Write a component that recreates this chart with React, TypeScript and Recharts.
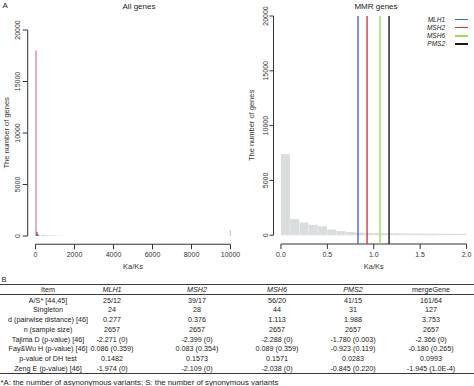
import React from "react";
import { ComposedChart, BarChart, Bar, Area, Cell, XAxis, YAxis, ReferenceLine } from "recharts";

// Panel A, left: Ka/Ks histogram of all genes (bin centres and counts)
const allGenesKaKs = [25, 75, 125, 175, 9990];
const allGenesCounts = [18000, 380, 190, 90, 550];
const allGenesColors = ["#c4586a", "#6b2a38", "#7a3a46", "#a08088", "#b8bcbc"];
// the faint tail of small counts after the first bins
const allTailKaKs = [300, 500, 700, 900, 1100, 1300, 1500];
const allTailCounts = [90, 70, 55, 40, 30, 20, 0];
const allKaKsTicks = [0, 2000, 4000, 6000, 8000, 10000];

// Panel A, right: Ka/Ks histogram, 0.1 wide bins, with the four MMR genes
const mmrBinKaKs = [0.05, 0.15, 0.25, 0.35, 0.45, 0.55, 0.65, 0.75, 0.85, 0.95, 1.05, 1.15, 1.25, 1.35, 1.45, 1.55, 1.65, 1.75, 1.85, 1.95];
const mmrBinCounts = [7400, 1480, 1150, 950, 820, 520, 380, 290, 240, 210, 195, 185, 175, 165, 160, 150, 145, 140, 135, 130];
const mmrKaKsTicks = [0, 0.5, 1, 1.5, 2];
const mmrGenes = ["MLH1", "MSH2", "MSH6", "PMS2"];
const mmrGeneKaKs = [0.83, 0.928, 1.068, 1.165];
const mmrGeneColors = ["#4a64d8", "#ee2c2c", "#96e05a", "#1a1a1a"];

const countTicks = [0, 5000, 10000, 15000, 20000];

// Panel B
const tableHeader = ["Item", "MLH1", "MSH2", "MSH6", "PMS2", "mergeGene"];
const tableItems = [
  "A/S* [44,45]",
  "Singleton",
  "d (pairwise distance) [46]",
  "n (sample size)",
  "Tajima D (p-value) [46]",
  "Fay&Wu H (p-value) [46]",
  "p-value of DH test",
  "Zeng E (p-value) [46]",
];
const mlh1Values = ["25/12", "24", "0.277", "2657", "-2.271 (0)", "0.086 (0.359)", "0.1482", "-1.974 (0)"];
const msh2Values = ["39/17", "28", "0.376", "2657", "-2.399 (0)", "0.083 (0.354)", "0.1573", "-2.109 (0)"];
const msh6Values = ["56/20", "44", "1.113", "2657", "-2.288 (0)", "0.089 (0.359)", "0.1571", "-2.038 (0)"];
const pms2Values = ["41/15", "31", "1.988", "2657", "-1.780 (0.003)", "-0.923 (0.119)", "0.0283", "-0.845 (0.220)"];
const mergeValues = ["161/64", "127", "3.753", "2657", "-2.366 (0)", "-0.180 (0.265)", "0.0993", "-1.945 (1.0E-4)"];
const footnote = "*A: the number of asynonymous variants; S: the number of synonymous variants";

const ink = "#333";
const font = "'Liberation Sans', Arial, sans-serif";
const colCenters = [48, 112, 197, 277, 353, 431];

const allGenesData = [
  ...allGenesKaKs.map((x, i) => ({ x, count: allGenesCounts[i], color: allGenesColors[i] })),
  ...allTailKaKs.map((x, i) => ({ x, tail: allTailCounts[i] })),
].sort((a, b) => a.x - b.x);

const mmrData = mmrBinKaKs.map((x, i) => ({ x, count: mmrBinCounts[i] }));

const RotatedTick = (props: any) => {
  const { x, y, payload } = props;
  return (
    <text x={x} y={y} transform={`rotate(-90 ${x} ${y})`} textAnchor="middle" fontSize={7} fill={ink}>
      {payload.value}
    </text>
  );
};

const yTitle = (props: any) => {
  const vb = props.viewBox || {};
  const x = (vb.x ?? 0) + 7;
  const y = (vb.y ?? 0) + (vb.height ?? 0) * 0.48;
  return (
    <text x={x} y={y} transform={`rotate(-90 ${x} ${y})`} textAnchor="middle" dominantBaseline="central" fontSize={7.5} fill={ink}>
      The number of genes
    </text>
  );
};

const xTitle = (props: any) => {
  const vb = props.viewBox || {};
  const x = (vb.x ?? 0) + (vb.width ?? 0) / 2;
  const y = (vb.y ?? 0) + 22.7;
  return (
    <text x={x} y={y} textAnchor="middle" dominantBaseline="central" fontSize={7.5} fill={ink}>
      Ka/Ks
    </text>
  );
};

function AllGenesChart() {
  return (
    <ComposedChart width={245} height={280} data={allGenesData} margin={{ top: 30, right: 6.7, bottom: 0, left: 0 }} barCategoryGap={0}>
      <XAxis
        type="number"
        dataKey="x"
        domain={[-400, 10400]}
        ticks={allKaKsTicks}
        interval={0}
        axisLine={false}
        tickLine={{ stroke: ink }}
        tickSize={5}
        tickMargin={3}
        height={35.76}
        tick={{ fontSize: 7, fill: ink }}
        label={xTitle}
      />
      <YAxis
        type="number"
        domain={[-800, 20000]}
        ticks={countTicks}
        interval={0}
        width={27.7}
        axisLine={false}
        tickLine={{ stroke: ink }}
        tickSize={5}
        tickMargin={2.7}
        tick={RotatedTick}
        label={yTitle}
      />
      <Area dataKey="tail" type="linear" fill="#cfd3d3" fillOpacity={1} stroke="none" isAnimationActive={false} />
      <Bar dataKey="count" isAnimationActive={false}>
        {allGenesData.map((d: any, i) => (
          <Cell key={i} fill={d.color ?? "#c8cccc"} />
        ))}
      </Bar>
      <ReferenceLine segment={[{ x: allKaKsTicks[0], y: -800 }, { x: allKaKsTicks[allKaKsTicks.length - 1], y: -800 }]} stroke={ink} />
      <ReferenceLine segment={[{ x: -400, y: countTicks[0] }, { x: -400, y: countTicks[countTicks.length - 1] }]} stroke={ink} />
    </ComposedChart>
  );
}

function MmrChart() {
  return (
    <BarChart width={229} height={280} data={mmrData} margin={{ top: 16, right: 0, bottom: 0, left: 0 }} barCategoryGap={0}>
      <XAxis
        type="number"
        dataKey="x"
        domain={[-0.08, 2.08]}
        ticks={mmrKaKsTicks}
        interval={0}
        tickFormatter={(v: number) => v.toFixed(1)}
        axisLine={false}
        tickLine={{ stroke: ink }}
        tickSize={5}
        tickMargin={3}
        height={36}
        tick={{ fontSize: 7, fill: ink }}
        label={xTitle}
      />
      <YAxis
        type="number"
        domain={[-800, 20000]}
        ticks={countTicks}
        interval={0}
        width={28.5}
        axisLine={false}
        tickLine={{ stroke: ink }}
        tickSize={4}
        tickMargin={1.5}
        tick={RotatedTick}
        label={yTitle}
      />
      <Bar dataKey="count" fill="#d9dddd" isAnimationActive={false} />
      <ReferenceLine segment={[{ x: mmrKaKsTicks[0], y: -800 }, { x: mmrKaKsTicks[mmrKaKsTicks.length - 1], y: -800 }]} stroke={ink} />
      <ReferenceLine segment={[{ x: -0.08, y: countTicks[0] }, { x: -0.08, y: countTicks[countTicks.length - 1] }]} stroke={ink} />
      {mmrGenes.map((g, i) => (
        <ReferenceLine key={g} x={mmrGeneKaKs[i]} stroke={mmrGeneColors[i]} strokeWidth={1.4} />
      ))}
    </BarChart>
  );
}

const abs = (left: number, top: number, extra: React.CSSProperties = {}): React.CSSProperties => ({
  position: "absolute",
  left,
  top,
  whiteSpace: "nowrap",
  ...extra,
});

function TableCell({ text, cx, cy, italic }: { text: string; cx: number; cy: number; italic?: boolean }) {
  return (
    <div style={abs(cx - 60, cy - 5, { width: 120, height: 10, lineHeight: "10px", textAlign: "center", fontStyle: italic ? "italic" : "normal" })}>
      {text}
    </div>
  );
}

function StatsTable() {
  const columns = [tableItems, mlh1Values, msh2Values, msh6Values, pms2Values, mergeValues];
  const rule = (top: number) => <div style={abs(0, top, { width: 474, height: 1, background: "#3a3a3a" })} />;
  return (
    <div style={{ fontSize: 7.2, color: "#222" }}>
      {rule(284.2)}
      {rule(293.6)}
      {rule(373)}
      {tableHeader.map((h, c) => (
        <TableCell key={h} text={h} cx={colCenters[c]} cy={289.6} italic={c >= 1 && c <= 4} />
      ))}
      {tableItems.map((_, r) =>
        columns.map((col, c) => <TableCell key={`${r}-${c}`} text={col[r]} cx={colCenters[c]} cy={300.6 + r * 9.75} />)
      )}
      <div style={abs(0.5, 377.8, { lineHeight: "9px", fontSize: 7.8 })}>{footnote}</div>
    </div>
  );
}

export default function App() {
  return (
    <div style={{ position: "absolute", left: 0, top: 0, width: 474, height: 386, background: "#fff", fontFamily: font, color: "#222", overflow: "hidden" }}>
      <div style={abs(2.5, 0.5, { fontSize: 8, lineHeight: "10px" })}>A</div>
      <div style={abs(89, 2, { width: 100, textAlign: "center", fontSize: 8, lineHeight: "10px" })}>All genes</div>
      <div style={abs(326, 2, { width: 100, textAlign: "center", fontSize: 8, lineHeight: "10px" })}>MMR genes</div>
      <div style={abs(0, 0)}>
        <AllGenesChart />
      </div>
      <div style={abs(245, 0)}>
        <MmrChart />
      </div>
      {mmrGenes.map((g, i) => (
        <React.Fragment key={g}>
          <div style={abs(395, 19.7 + i * 8.1 - 4, { width: 50, textAlign: "right", fontSize: 6.5, lineHeight: "8px", fontStyle: "italic" })}>{g}</div>
          <div style={abs(455, 19.7 + i * 8.1 - 0.7, { width: 13, height: 1.4, background: mmrGeneColors[i] })} />
        </React.Fragment>
      ))}
      <div style={abs(1.5, 274.5, { fontSize: 7.5, lineHeight: "9px" })}>B</div>
      <StatsTable />
    </div>
  );
}
